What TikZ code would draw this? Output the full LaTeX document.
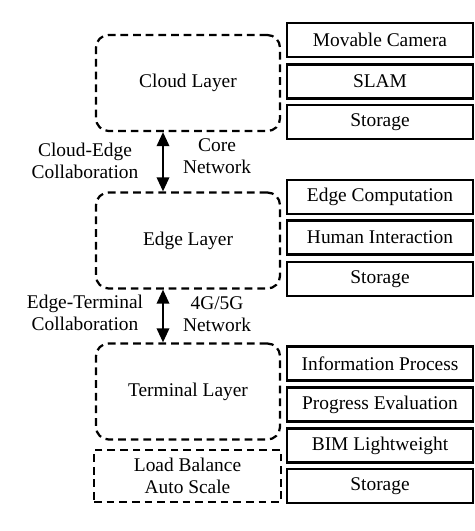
\documentclass[tikz,border=0pt]{standalone}
\usepackage{fontspec}
\setmainfont{Liberation Serif}
\usetikzlibrary{arrows.meta}
\begin{document}
\begin{tikzpicture}[x=0.025cm,y=-0.025cm,
    every node/.style={font=\fontsize{13.8}{15.6}\selectfont},
    layer/.style={draw,line width=1.6pt,dash pattern=on 5.5pt off 3.5pt,rounded corners=9pt,
      minimum width=4.6cm,minimum height=2.4cm},
    task/.style={draw,line width=1.6pt,minimum width=4.65cm,minimum height=0.85cm,inner sep=0pt},
    note/.style={align=center},
    link/.style={{Triangle[length=10pt,width=9pt]}-{Triangle[length=10pt,width=9pt]},line width=1.1pt}]
  \useasboundingbox (0,0) rectangle (474,531);
  \path
    (188,83) node[layer] (cloud){Cloud Layer}
    (188,240.5) node[layer] (edge){Edge Layer}
    (188,391.5) node[layer] (terminal){Terminal Layer}
    (187.5,476) node[layer,rounded corners=0pt,minimum width=4.675cm,minimum height=1.3cm,note] (balance){Load Balance\\Auto Scale};
  \path
    (380,40) node[task] (camera){Movable Camera}
    (380,81.5) node[task] (slam){SLAM}
    (380,122) node[task] (cstore){Storage}
    (380,197) node[task] (compute){Edge Computation}
    (380,237.5) node[task] (human){Human Interaction}
    (380,279) node[task] (estore){Storage}
    (380,363.5) node[task] (info){Information Process}
    (380,404.5) node[task] (progress){Progress Evaluation}
    (380,445.5) node[task] (bim){BIM Lightweight}
    (380,486) node[task] (tstore){Storage};
  \path
    (85,161) node[note] (ce){Cloud-Edge\\Collaboration}
    (217,156) node[note] (core){Core\\Network}
    (85,313) node[note] (et){Edge-Terminal\\Collaboration}
    (217,314) node[note] (net){4G/5G\\Network};
  \begin{scope}[link]
    \draw ([xshift=-0.625cm]cloud.south) to ([xshift=-0.625cm]edge.north);
    \draw ([xshift=-0.625cm]edge.south) to ([xshift=-0.625cm]terminal.north);
  \end{scope}
\end{tikzpicture}
\end{document}
